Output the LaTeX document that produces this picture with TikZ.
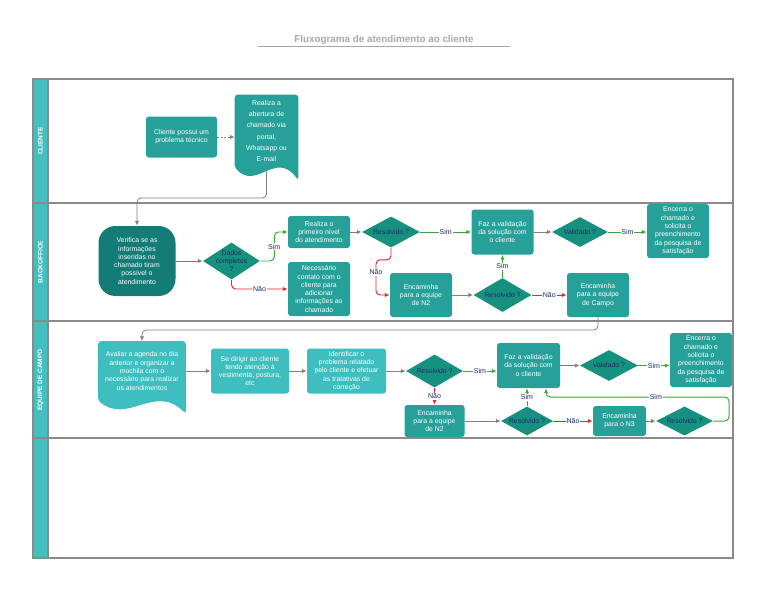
\documentclass[tikz,border=0pt]{standalone}
\usepackage{fontspec}
\setmainfont{Liberation Sans}
\usetikzlibrary{shapes.geometric,arrows.meta,backgrounds,calc}

\definecolor{boxteal}{HTML}{28A09A}
\definecolor{darkteal}{HTML}{147C77}
\definecolor{diateal}{HTML}{17917F}
\definecolor{lightteal}{HTML}{3EBEBE}
\definecolor{stripteal}{HTML}{43BFBF}
\definecolor{framegray}{HTML}{8A8A8A}
\definecolor{arrgray}{HTML}{808080}
\definecolor{simgreen}{HTML}{3AA636}
\definecolor{naored}{HTML}{E8262C}
\definecolor{lblblue}{HTML}{1E2A66}
\definecolor{titlegray}{HTML}{A8A8A8}

\tikzset{
  txt/.style={text=white, align=center, inner sep=1pt, font=\fontsize{4.9}{5.9}\selectfont},
  box/.style 2 args={txt, rectangle, rounded corners=2pt, fill=boxteal,
    minimum width=#1*0.025cm, minimum height=#2*0.025cm},
  lbox/.style 2 args={box={#1}{#2}, fill=lightteal},
  docbox/.style 2 args={txt, rectangle, minimum width=#1*0.025cm, minimum height=#2*0.025cm},
  term/.style 2 args={box={#1}{#2}, rounded corners=12pt, fill=darkteal},
  dia/.style 2 args={txt, diamond, aspect=1.5, inner sep=0pt, fill=diateal, text=lblblue,
    minimum width=#1*0.025cm, minimum height=#2*0.025cm},
  conn/.style={draw=arrgray, line width=0.6pt, -{Latex[length=3.5pt,width=3pt]}},
  simline/.style={conn, draw=simgreen, line width=0.7pt},
  naoline/.style={conn, draw=naored, line width=0.7pt},
  lbl/.style={fill=white, text=lblblue, inner sep=0.6pt, font=\fontsize{5}{5}\selectfont},
  lanelbl/.style={rotate=90, text=white, font=\bfseries\fontsize{4.6}{5}\selectfont},
}

\begin{document}
\begin{tikzpicture}[x=0.025cm, y=-0.025cm]
    \useasboundingbox (0,0) rectangle (768,593);
    % titulo
    \node (titulo) at (384,39.5) [font=\bfseries\fontsize{7}{8}\selectfont, text=titlegray] {Fluxograma de atendimento ao cliente};
    \draw[titlegray, line width=0.7pt] (258,46) -- (510,46);

    % raias
    \fill[stripteal] (33,79) rectangle (48,558);
    \draw[framegray, line width=0.8pt] (33,79) rectangle (733,558);
    \draw[framegray, line width=0.8pt] (48,79) -- (48,558);
    \draw[framegray, line width=0.8pt] (33,203) -- (733,203);\draw[framegray, line width=0.8pt] (33,321) -- (733,321);
    \draw[framegray, line width=0.8pt] (33,438) -- (733,438);
    \node[lanelbl] (lcliente) at (40.5,141) {CLIENTE};
    \node[lanelbl] (lback) at (40.5,262) {BACKOFFICE};
    \node[lanelbl] (lcampo) at (40.5,380) {EQUIPE DE CAMPO};

    % cliente
    \node[box={71}{41}] (cli) at (181.5,137) {Cliente possui um\\problema técnico};
    \node[docbox={63}{72}, font=\fontsize{4.9}{8}\selectfont] (abre) at (266.5,131) {Realiza a\\abertura de\\chamado via\\portal,\\Whatsapp ou\\E-mail};

    % backoffice
    \node[term={77}{70}] (verif) at (137,261) {Verifica se as\\informações\\inseridas no\\chamado tiram\\possível o\\atendimento};
    \node[dia={57}{37}, inner sep=-4pt] (dados) at (231.5,261) {Dados\\completos\\?};
    \node[box={62}{32}] (prim) at (319,232) {Realiza o\\primeiro nível\\do atendimento};
    \node[box={62}{54}] (neces) at (319,289) {Necessário\\contato com o\\cliente para\\adicionar\\informações ao\\chamado};
    \node[dia={58}{31}] (res1) at (391,232) {Resolvido ?};
    \node[box={62}{45}] (val1) at (502.5,232) {Faz a validação\\da solução com\\o cliente};
    \node[dia={56}{30}] (vld1) at (580,232) {Validado ?};
    \node[box={62}{54}] (fim1) at (678,231) {Encerra o\\chamado e\\solicita o\\preenchimento\\da pesquisa de\\satisfação};
    \node[box={62}{44}] (n2a) at (421,295) {Encaminha\\para a equipe\\de N2};
    \node[dia={58}{34}] (res2) at (502.5,295) {Resolvido ?};
    \node[box={62}{44}] (campo) at (598,295) {Encaminha\\para a equipe\\de Campo};

    % equipe de campo
    \node[docbox={87}{59}] (agenda) at (142,371) {Avaliar a agenda no dia\\anterior e organizar a\\mochila com o\\necessário para realizar\\os atendimentos};
    \node[lbox={78}{45}] (dirig) at (250,371) {Se dirigir ao cliente\\tendo atenção à\\vestimenta, postura,\\etc};
    \node[lbox={79}{45}] (ident) at (346.5,371) {Identificar o\\problema relatado\\pelo cliente e efetuar\\as tratativas de\\correção};
    \node[dia={57}{33}] (res3) at (434.5,371) {Resolvido ?};
    \node[box={63}{45}] (val2) at (528.5,365.5) {Faz a validação\\da solução com\\o cliente};
    \node[dia={58}{31}] (vld2) at (609,365.5) {Validado ?};
    \node[box={62}{54}] (fim2) at (701,360) {Encerra o\\chamado e\\solicita o\\preenchimento\\da pesquisa de\\satisfação};
    \node[box={60}{32}] (n2b) at (434.5,421) {Encaminha\\para a equipe\\de N2};
    \node[dia={52}{29}] (res4) at (527,421) {Resolvido ?};
    \node[box={53}{30}] (n3) at (619.5,421) {Encaminha\\para o N3};
    \node[dia={57}{29}] (res5) at (684.5,421) {Resolvido ?};

    % documentos
    \begin{scope}[on background layer]
      \fill[boxteal, rounded corners=2pt] (abre.south west) -- (abre.north west) -- (abre.north east) -- ($(abre.south east)+(0,13)$)
        .. controls ($(abre.south west)+(41,-18)$) and ($(abre.south west)+(22,24)$) .. cycle;
      \fill[lightteal, rounded corners=2pt] (agenda.south west) -- (agenda.north west) -- (agenda.north east) -- ($(agenda.south east)+(0,13)$)
        .. controls ($(agenda.south west)+(56.5,-18)$) and ($(agenda.south west)+(30.5,24)$) .. cycle;
    \end{scope}

    \coordinate (abrefim) at ($(abre.south)+(0,4)$);
    \coordinate (k1) at (137,198);
    \coordinate (k2) at (142,330);
    \coordinate (k4) at (729,397);
    \coordinate (k5) at (546,397);

    % ligacoes
    \draw[conn, dash pattern=on 1.5pt off 1pt] (cli.east) -- (cli.east -| abre.west);
    \draw[conn, rounded corners=3pt] (abrefim) |- (k1) -- (verif.north);
    \draw[conn] (verif) -- (dados);
    \draw[simline, rounded corners=3pt] (dados.east) -- ++(14,0) |- node[lbl, pos=0.25] {Sim} (prim.west);
    \draw[naoline, rounded corners=3pt] (dados.south) |- node[lbl, pos=0.75] {Não} (neces.west);
    \draw[conn] (prim) -- (res1);
    \draw[simline] (res1) -- node[lbl] {Sim} (val1);
    \draw[conn] (val1) -- (vld1);
    \draw[simline] (vld1.east) -- node[lbl] {Sim} (vld1.east -| fim1.west);
    \draw[naoline, rounded corners=3pt] (res1.south) -- ++(0,12) -- ++(-15,0) |- node[lbl, pos=0.18] {Não} (n2a.west);
    \draw[conn] (n2a) -- (res2);
    \draw[simline] (res2.north) -- node[lbl] {Sim} (val1.south);
    \draw[naoline] (res2) -- node[lbl] {Não} (campo);
    \draw[conn, rounded corners=3pt] (campo.south) |- (k2) -- (agenda.north);

    \draw[conn] (agenda.east |- dirig.west) -- (dirig.west);
    \draw[conn] (dirig) -- (ident);
    \draw[conn] (ident) -- (res3);
    \draw[simline] (res3.east) -- node[lbl] {Sim} (res3.east -| val2.west);
    \draw[conn] (val2) -- (vld2);
    \draw[simline] (vld2.east) -- node[lbl] {Sim} (vld2.east -| fim2.west);
    \draw[naoline] (res3) -- node[lbl] {Não} (n2b);
    \draw[conn] (n2b) -- (res4);
    \draw[simline] (res4.north) -- node[lbl] {Sim} (res4.north |- val2.south);
    \draw[naoline] (res4) -- node[lbl] {Não} (n3);
    \draw[conn] (n3) -- (res5);
    \draw[simline, rounded corners=3pt] (res5.east) -| (k4) -- node[lbl, pos=0.4] {Sim} (k5) -- (k5 |- val2.south);
\end{tikzpicture}
\end{document}
